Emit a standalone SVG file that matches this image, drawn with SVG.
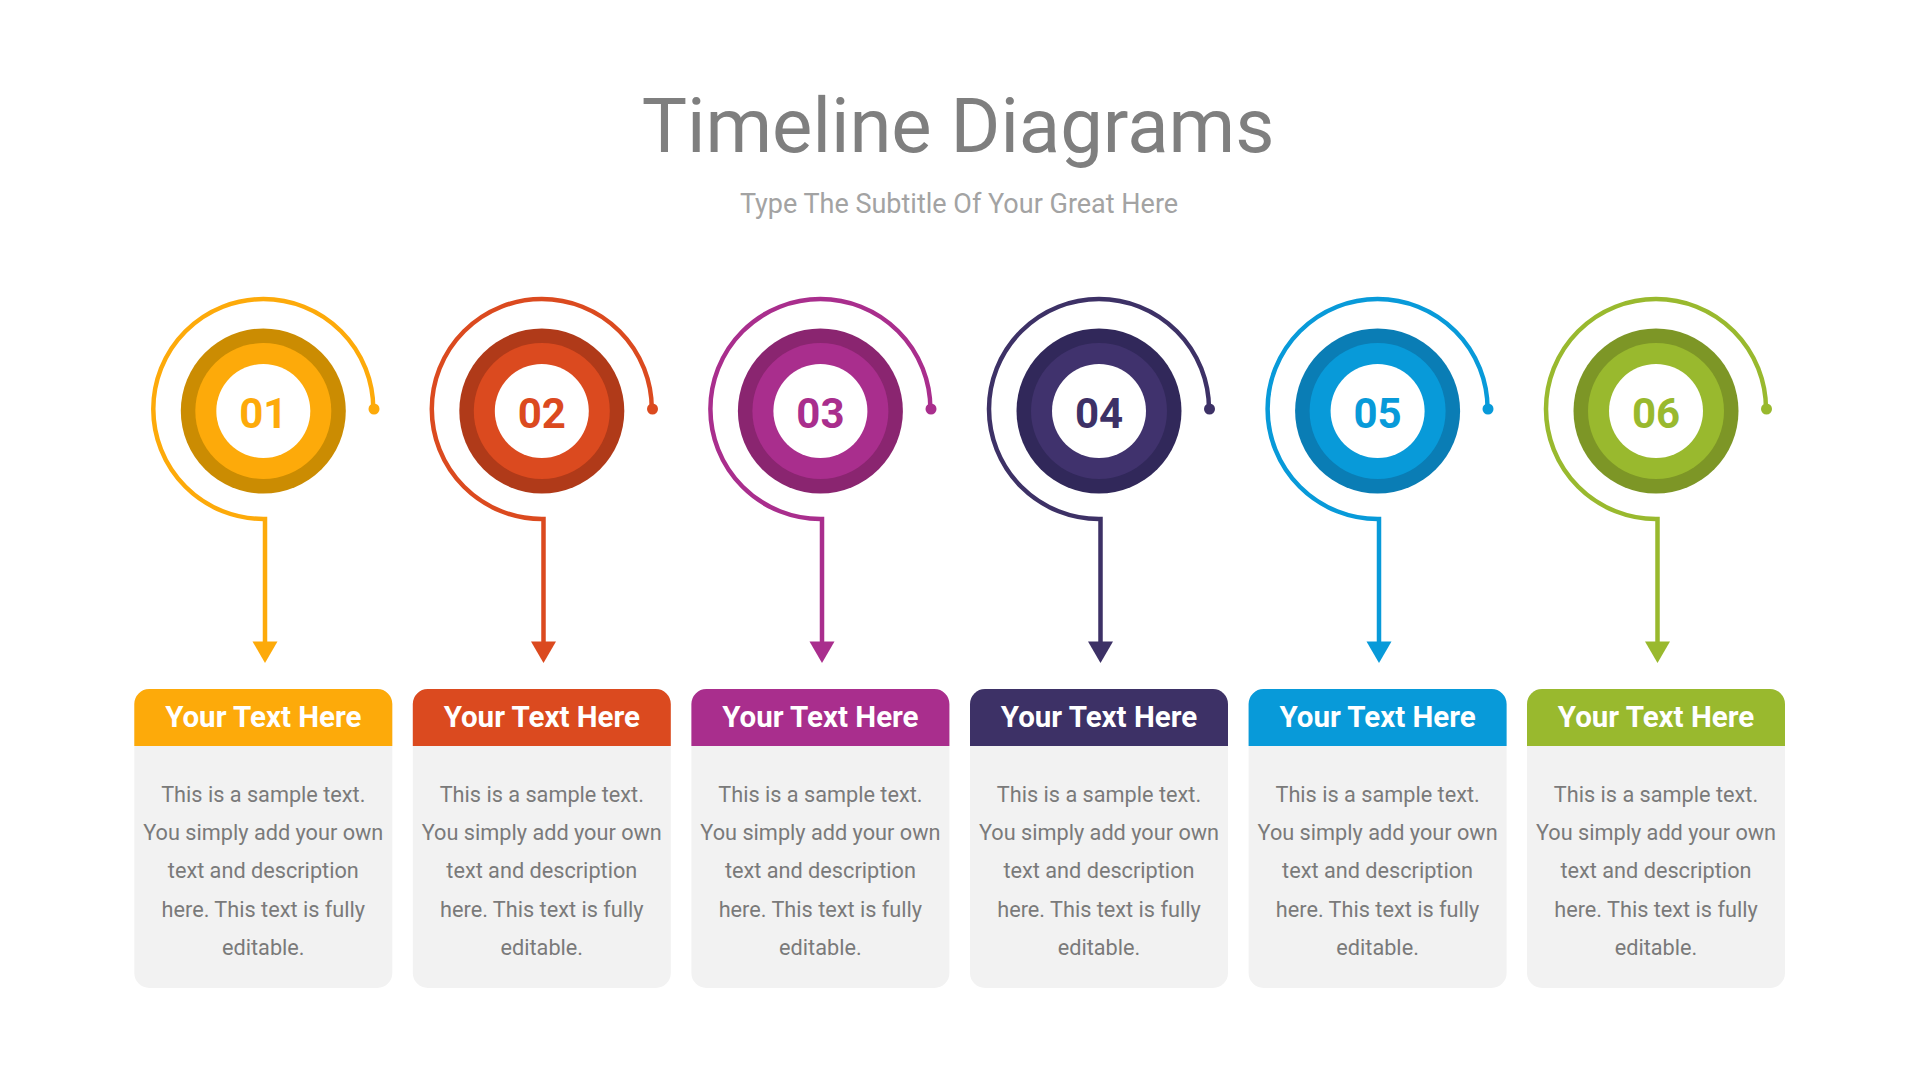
<svg xmlns="http://www.w3.org/2000/svg" width="1920" height="1080" viewBox="0 0 1920 1080">
<style>
.title{font-family:Roboto,"Liberation Sans",sans-serif;font-size:76px;fill:#7f7f7f;text-anchor:middle}
.sub{font-family:Roboto,"Liberation Sans",sans-serif;font-size:27px;fill:#a3a3a3;text-anchor:middle}
.num{font-family:Roboto,"Liberation Sans",sans-serif;font-size:42px;font-weight:700;text-anchor:middle}
.head{font-family:Roboto,"Liberation Sans",sans-serif;font-size:29.5px;font-weight:700;fill:#ffffff;text-anchor:middle}
.body{font-family:Roboto,"Liberation Sans",sans-serif;font-size:21.7px;fill:#7a7a7a;text-anchor:middle}
.card{fill:#f2f2f2}
.arc{fill:none;stroke-width:4.5;stroke-linejoin:miter}
</style>
<rect width="1920" height="1080" fill="#ffffff"/>
<text class="title" x="958" y="152">Timeline Diagrams</text>
<text class="sub" x="959" y="213">Type The Subtitle Of Your Great Here</text>

<g id="connectors">
  <g stroke="#fdaa0a" fill="#fdaa0a">
    <path class="arc" d="M373.3 409 A110 110 0 1 0 263.3 519 L265 519 L265 643"/>
    <circle cx="374" cy="409" r="5.5" stroke="none"/>
    <polygon points="252.5,641.5 277.5,641.5 265,663" stroke="none"/>
  </g>
  <g stroke="#db4a1f" fill="#db4a1f">
    <path class="arc" d="M651.8 409 A110 110 0 1 0 541.8 519 L543.5 519 L543.5 643"/>
    <circle cx="652.5" cy="409" r="5.5" stroke="none"/>
    <polygon points="531,641.5 556,641.5 543.5,663" stroke="none"/>
  </g>
  <g stroke="#a92e8d" fill="#a92e8d">
    <path class="arc" d="M930.4 409 A110 110 0 1 0 820.4 519 L822 519 L822 643"/>
    <circle cx="931" cy="409" r="5.5" stroke="none"/>
    <polygon points="809.5,641.5 834.5,641.5 822,663" stroke="none"/>
  </g>
  <g stroke="#3d3166" fill="#3d3166">
    <path class="arc" d="M1209 409 A110 110 0 1 0 1099 519 L1100.5 519 L1100.5 643"/>
    <circle cx="1209.5" cy="409" r="5.5" stroke="none"/>
    <polygon points="1088,641.5 1113,641.5 1100.5,663" stroke="none"/>
  </g>
  <g stroke="#089ad9" fill="#089ad9">
    <path class="arc" d="M1487.6 409 A110 110 0 1 0 1377.6 519 L1379 519 L1379 643"/>
    <circle cx="1488" cy="409" r="5.5" stroke="none"/>
    <polygon points="1366.5,641.5 1391.5,641.5 1379,663" stroke="none"/>
  </g>
  <g stroke="#99b92e" fill="#99b92e">
    <path class="arc" d="M1766 409 A110 110 0 1 0 1656 519 L1657.5 519 L1657.5 643"/>
    <circle cx="1766.5" cy="409" r="5.5" stroke="none"/>
    <polygon points="1645,641.5 1670,641.5 1657.5,663" stroke="none"/>
  </g>
</g>

<g id="node1">
  <circle cx="263.3" cy="411" r="82.5" fill="#cb8c02"/>
  <circle cx="263.3" cy="411" r="68" fill="#fdaa0a"/>
  <circle cx="263.3" cy="411" r="47" fill="#ffffff"/>
  <text class="num" x="263.3" y="427.5" fill="#fdaa0a">01</text>
  <rect class="card" x="134.3" y="689" width="258" height="299" rx="15"/>
  <path d="M134.3 746 V704 A15 15 0 0 1 149.3 689 H377.3 A15 15 0 0 1 392.3 704 V746 Z" fill="#fdaa0a"/>
  <text class="head" x="263.3" y="727">Your Text Here</text>
  <text class="body" x="263.3" y="801.5">This is a sample text.</text>
  <text class="body" x="263.3" y="839.9">You simply add your own</text>
  <text class="body" x="263.3" y="878.3">text and description</text>
  <text class="body" x="263.3" y="916.7">here. This text is fully</text>
  <text class="body" x="263.3" y="955.1">editable.</text>
</g>
<g id="node2">
  <circle cx="541.8" cy="411" r="82.5" fill="#b03a19"/>
  <circle cx="541.8" cy="411" r="68" fill="#db4a1f"/>
  <circle cx="541.8" cy="411" r="47" fill="#ffffff"/>
  <text class="num" x="541.8" y="427.5" fill="#db4a1f">02</text>
  <rect class="card" x="412.8" y="689" width="258" height="299" rx="15"/>
  <path d="M412.8 746 V704 A15 15 0 0 1 427.8 689 H655.8 A15 15 0 0 1 670.8 704 V746 Z" fill="#db4a1f"/>
  <text class="head" x="541.8" y="727">Your Text Here</text>
  <text class="body" x="541.8" y="801.5">This is a sample text.</text>
  <text class="body" x="541.8" y="839.9">You simply add your own</text>
  <text class="body" x="541.8" y="878.3">text and description</text>
  <text class="body" x="541.8" y="916.7">here. This text is fully</text>
  <text class="body" x="541.8" y="955.1">editable.</text>
</g>
<g id="node3">
  <circle cx="820.4" cy="411" r="82.5" fill="#8a2570"/>
  <circle cx="820.4" cy="411" r="68" fill="#a92e8d"/>
  <circle cx="820.4" cy="411" r="47" fill="#ffffff"/>
  <text class="num" x="820.4" y="427.5" fill="#a92e8d">03</text>
  <rect class="card" x="691.4" y="689" width="258" height="299" rx="15"/>
  <path d="M691.4 746 V704 A15 15 0 0 1 706.4 689 H934.4 A15 15 0 0 1 949.4 704 V746 Z" fill="#a92e8d"/>
  <text class="head" x="820.4" y="727">Your Text Here</text>
  <text class="body" x="820.4" y="801.5">This is a sample text.</text>
  <text class="body" x="820.4" y="839.9">You simply add your own</text>
  <text class="body" x="820.4" y="878.3">text and description</text>
  <text class="body" x="820.4" y="916.7">here. This text is fully</text>
  <text class="body" x="820.4" y="955.1">editable.</text>
</g>
<g id="node4">
  <circle cx="1099" cy="411" r="82.5" fill="#31285a"/>
  <circle cx="1099" cy="411" r="68" fill="#40326d"/>
  <circle cx="1099" cy="411" r="47" fill="#ffffff"/>
  <text class="num" x="1099" y="427.5" fill="#3d3166">04</text>
  <rect class="card" x="970" y="689" width="258" height="299" rx="15"/>
  <path d="M970 746 V704 A15 15 0 0 1 985 689 H1213 A15 15 0 0 1 1228 704 V746 Z" fill="#3d3166"/>
  <text class="head" x="1099" y="727">Your Text Here</text>
  <text class="body" x="1099" y="801.5">This is a sample text.</text>
  <text class="body" x="1099" y="839.9">You simply add your own</text>
  <text class="body" x="1099" y="878.3">text and description</text>
  <text class="body" x="1099" y="916.7">here. This text is fully</text>
  <text class="body" x="1099" y="955.1">editable.</text>
</g>
<g id="node5">
  <circle cx="1377.6" cy="411" r="82.5" fill="#0a7db5"/>
  <circle cx="1377.6" cy="411" r="68" fill="#089ad9"/>
  <circle cx="1377.6" cy="411" r="47" fill="#ffffff"/>
  <text class="num" x="1377.6" y="427.5" fill="#089ad9">05</text>
  <rect class="card" x="1248.6" y="689" width="258" height="299" rx="15"/>
  <path d="M1248.6 746 V704 A15 15 0 0 1 1263.6 689 H1491.6 A15 15 0 0 1 1506.6 704 V746 Z" fill="#089ad9"/>
  <text class="head" x="1377.6" y="727">Your Text Here</text>
  <text class="body" x="1377.6" y="801.5">This is a sample text.</text>
  <text class="body" x="1377.6" y="839.9">You simply add your own</text>
  <text class="body" x="1377.6" y="878.3">text and description</text>
  <text class="body" x="1377.6" y="916.7">here. This text is fully</text>
  <text class="body" x="1377.6" y="955.1">editable.</text>
</g>
<g id="node6">
  <circle cx="1656" cy="411" r="82.5" fill="#7d9626"/>
  <circle cx="1656" cy="411" r="68" fill="#99b92e"/>
  <circle cx="1656" cy="411" r="47" fill="#ffffff"/>
  <text class="num" x="1656" y="427.5" fill="#99b92e">06</text>
  <rect class="card" x="1527" y="689" width="258" height="299" rx="15"/>
  <path d="M1527 746 V704 A15 15 0 0 1 1542 689 H1770 A15 15 0 0 1 1785 704 V746 Z" fill="#99b92e"/>
  <text class="head" x="1656" y="727">Your Text Here</text>
  <text class="body" x="1656" y="801.5">This is a sample text.</text>
  <text class="body" x="1656" y="839.9">You simply add your own</text>
  <text class="body" x="1656" y="878.3">text and description</text>
  <text class="body" x="1656" y="916.7">here. This text is fully</text>
  <text class="body" x="1656" y="955.1">editable.</text>
</g>
</svg>
